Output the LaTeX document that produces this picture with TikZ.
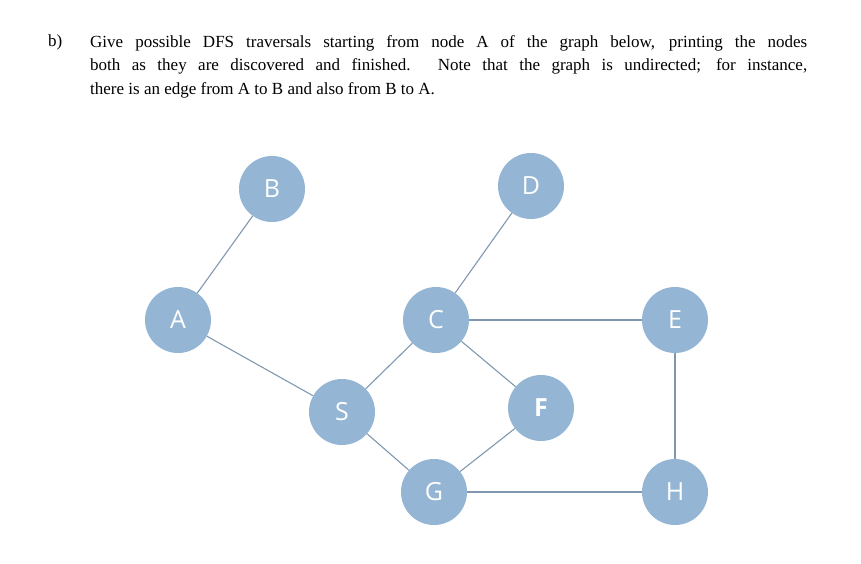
\documentclass[tikz,border=0pt]{standalone}
\usepackage{fontspec}
\setmainfont{Liberation Serif}
\newfontfamily\nodefont{Open Sans}
\definecolor{nodeblue}{HTML}{94B6D4}
\definecolor{edgeblue}{HTML}{7F98B0}
\begin{document}
\begin{tikzpicture}[x=1pt,y=-1pt,
  vtx/.style={circle,fill=nodeblue,minimum size=66pt,inner sep=0pt,text=white,font=\nodefont\fontsize{25}{25}\selectfont},
  edge/.style={draw=edgeblue,line width=1.1pt}]
\useasboundingbox (0,0) rectangle (861,563);
\node[anchor=north west,inner sep=0pt,font=\fontsize{17}{23.5}\selectfont] (lbl) at (48,35) {b)};
\node[anchor=north west,inner sep=0pt,text width=717pt,align=justify,font=\fontsize{17}{23.5}\selectfont] (txt) at (90,35)
{Give possible DFS traversals starting from node A of the graph below, printing the nodes\linebreak both as they are discovered and finished. Note that the graph is undirected; for instance,\linebreak there is an edge from A to B and also from B to A.};
\node[vtx] (B) at (272,189) {B};
\node[vtx] (D) at (531,186) {D};
\node[vtx] (A) at (178,320) {A};
\node[vtx] (C) at (436,320) {C};
\node[vtx] (E) at (675,320) {E};
\node[vtx] (S) at (342,412) {S};
\node[vtx] (F) at (541,408) {\textbf{F}};
\node[vtx] (G) at (434,492) {G};
\node[vtx] (H) at (675,492) {H};
\foreach \u/\v in {A/B,A/S,S/C,S/G,C/D,C/E,C/F,F/G,G/H,E/H}
  \draw[edge] (\u) -- (\v);
\end{tikzpicture}
\end{document}
